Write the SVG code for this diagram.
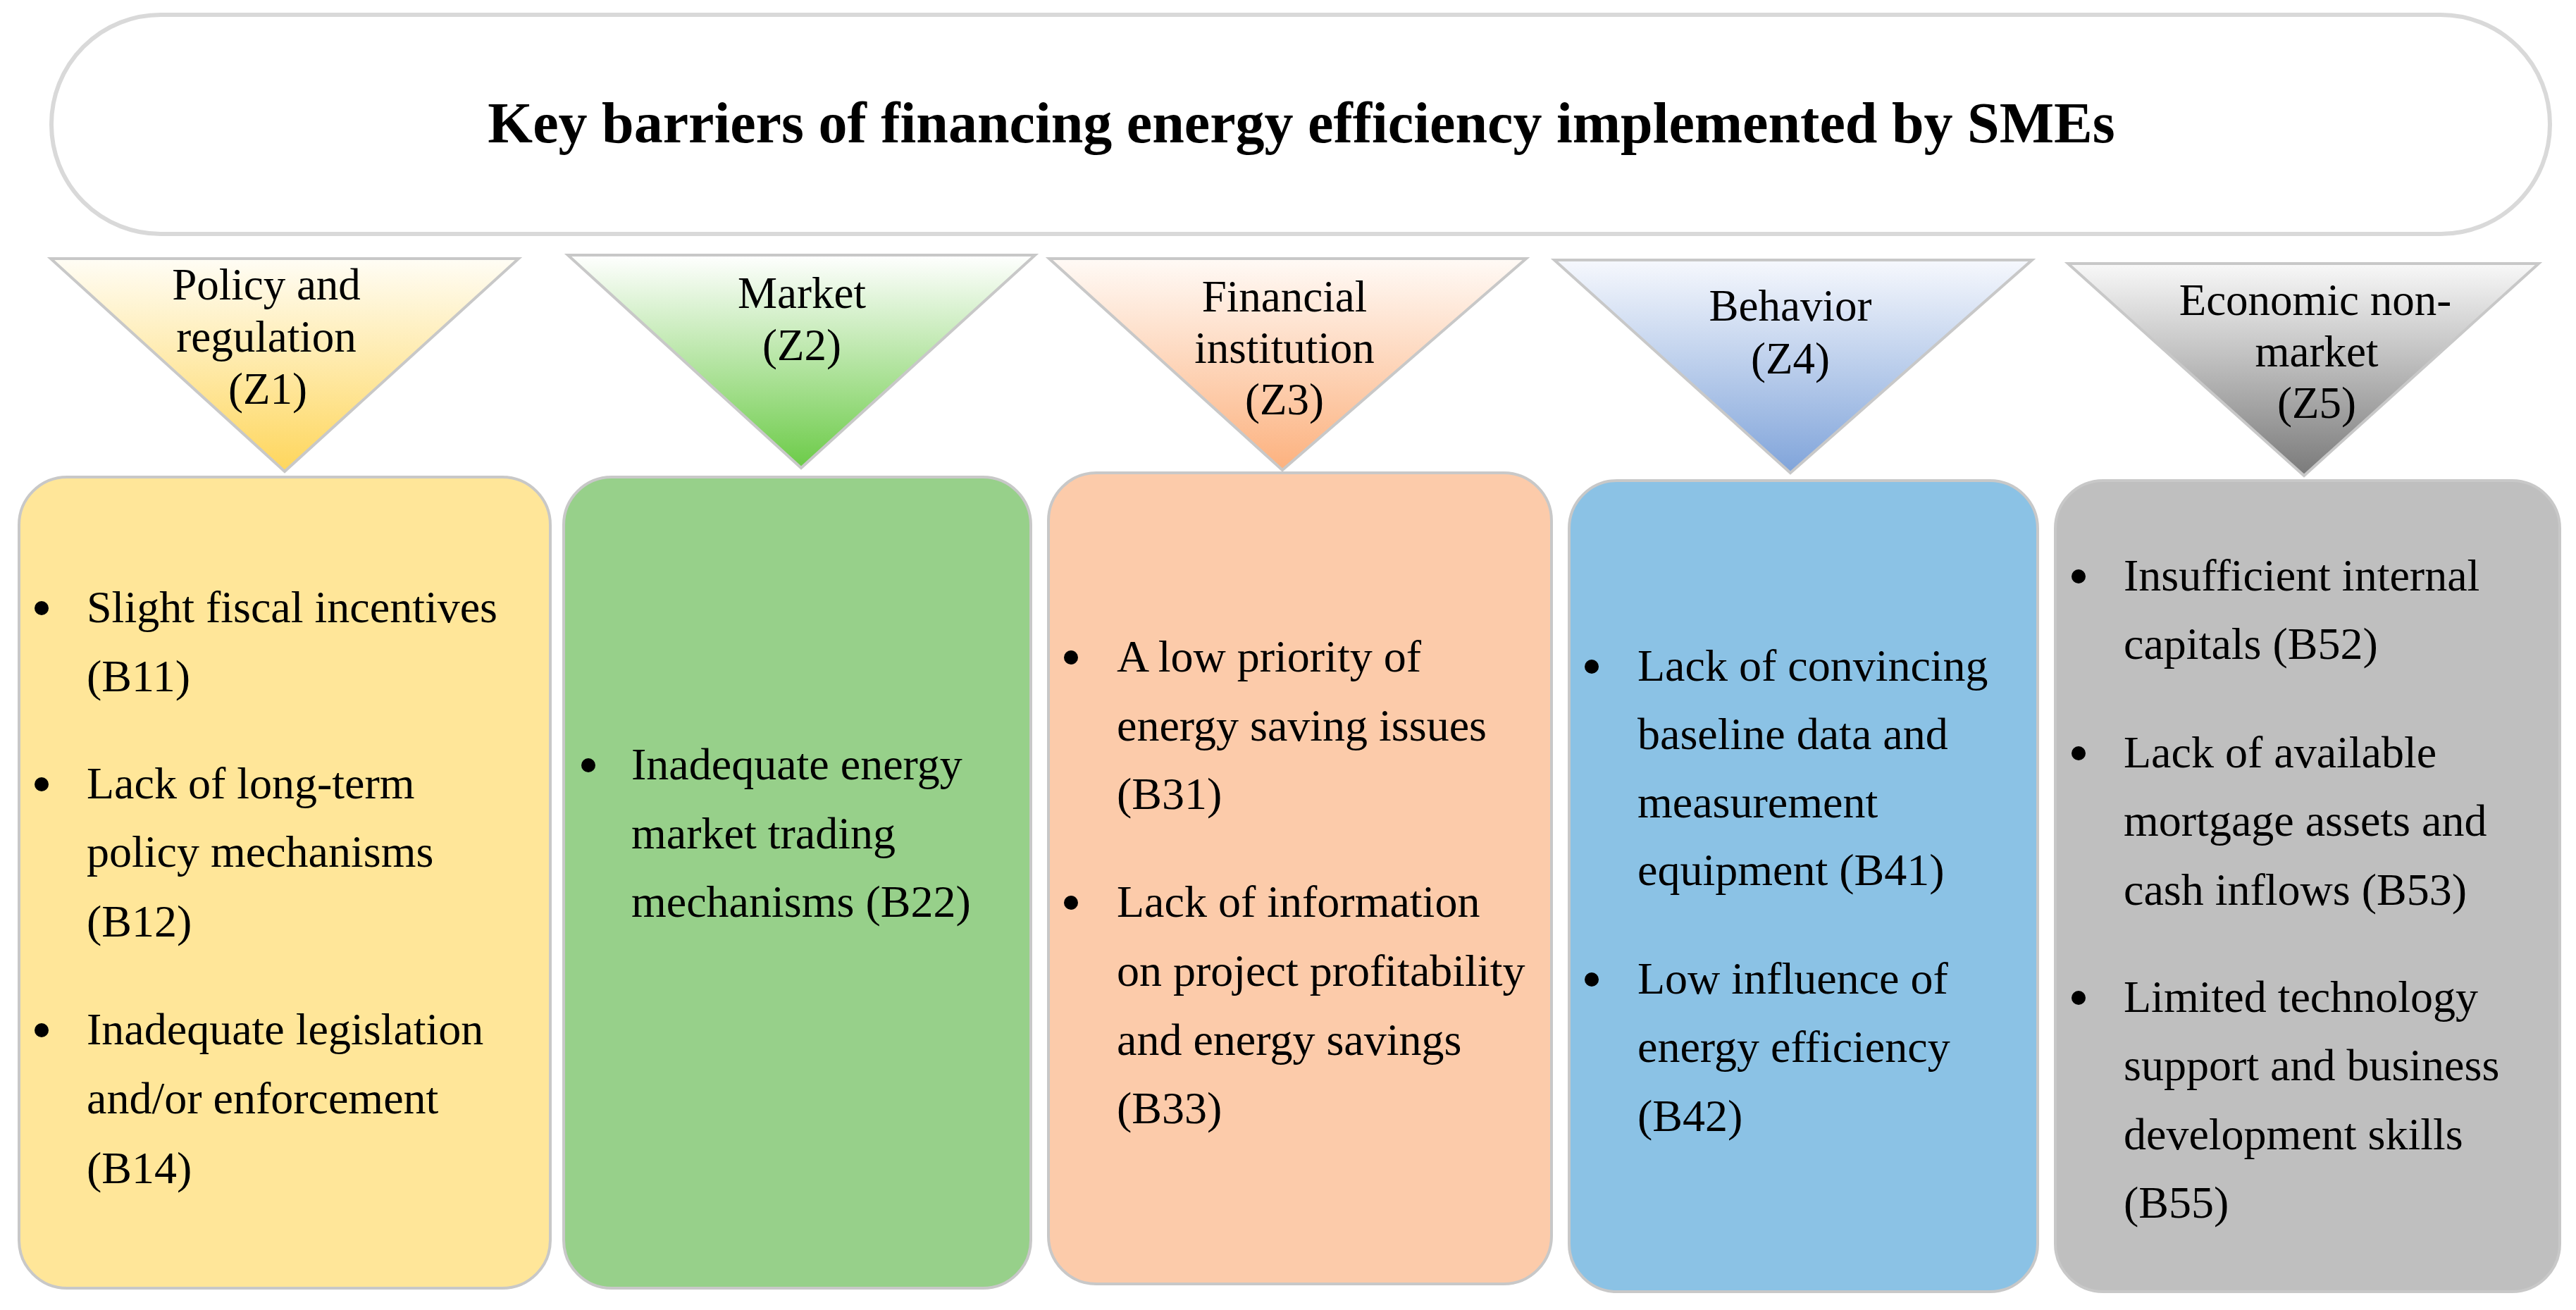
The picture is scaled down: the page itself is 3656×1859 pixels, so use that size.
<svg xmlns="http://www.w3.org/2000/svg" width="3656" height="1859" viewBox="0 0 3656 1859">
<style>
.t{font-family:"Liberation Serif","Times New Roman",serif;font-size:64px;fill:#000}
.h{font-family:"Liberation Serif","Times New Roman",serif;font-size:63px;fill:#000;text-anchor:middle}
.title{font-family:"Liberation Serif","Times New Roman",serif;font-size:82px;font-weight:bold;fill:#000;text-anchor:middle}
.tri{stroke:#c8c8c8;stroke-width:4;stroke-linejoin:miter}
.box{stroke:#c8c8c8;stroke-width:4}
.b{fill:#000}
</style>
<defs>
<linearGradient id="g1" x1="0" y1="0" x2="0" y2="1"><stop offset="0" stop-color="#fffdf5"/><stop offset="1" stop-color="#fed65c"/></linearGradient>
<linearGradient id="g2" x1="0" y1="0" x2="0" y2="1"><stop offset="0" stop-color="#ffffff"/><stop offset="1" stop-color="#6ccb48"/></linearGradient>
<linearGradient id="g3" x1="0" y1="0" x2="0" y2="1"><stop offset="0" stop-color="#fffaf6"/><stop offset="1" stop-color="#fcb17e"/></linearGradient>
<linearGradient id="g4" x1="0" y1="0" x2="0" y2="1"><stop offset="0" stop-color="#f6f8fd"/><stop offset="1" stop-color="#80a4da"/></linearGradient>
<linearGradient id="g5" x1="0" y1="0" x2="0" y2="1"><stop offset="0" stop-color="#f8f8f8"/><stop offset="1" stop-color="#7a7a7a"/></linearGradient>
</defs>
<rect width="3656" height="1859" fill="#fff"/>

<g id="title">
<rect x="73" y="21" width="3546" height="311" rx="155" ry="155" fill="#fff" stroke="#d9d9d9" stroke-width="6"/>
<text class="title" x="1847" y="202">Key barriers of financing energy efficiency implemented by SMEs</text>
</g>

<g id="connectors"></g>

<g id="z1">
<polygon class="tri" points="72,367 736,367 404,669" fill="url(#g1)"/>
<text class="h" x="378" y="425">Policy and</text>
<text class="h" x="378" y="499">regulation</text>
<text class="h" x="380" y="573">(Z1)</text>
</g>
<g id="z2">
<polygon class="tri" points="806,362 1469,362 1137,664" fill="url(#g2)"/>
<text class="h" x="1138" y="437">Market</text>
<text class="h" x="1138" y="511">(Z2)</text>
</g>
<g id="z3">
<polygon class="tri" points="1489,367 2166,367 1820,667" fill="url(#g3)"/>
<text class="h" x="1823" y="442">Financial</text>
<text class="h" x="1823" y="515">institution</text>
<text class="h" x="1823" y="588">(Z3)</text>
</g>
<g id="z4">
<polygon class="tri" points="2206,369 2884,369 2541,671" fill="url(#g4)"/>
<text class="h" x="2541" y="455">Behavior</text>
<text class="h" x="2541" y="530">(Z4)</text>
</g>
<g id="z5">
<polygon class="tri" points="2935,374 3603,374 3270,675" fill="url(#g5)"/>
<text class="h" x="3286" y="447">Economic non-</text>
<text class="h" x="3288" y="520">market</text>
<text class="h" x="3288" y="593">(Z5)</text>
</g>

<g id="b1">
<rect class="box" x="27" y="677" width="754" height="1151" rx="68" ry="68" fill="#ffe699"/>
<circle class="b" cx="59" cy="863" r="10"/>
<text class="t" x="123" y="883">Slight fiscal incentives</text>
<text class="t" x="123" y="981">(B11)</text>
<circle class="b" cx="59" cy="1113" r="10"/>
<text class="t" x="123" y="1133">Lack of long-term</text>
<text class="t" x="123" y="1230">policy mechanisms</text>
<text class="t" x="123" y="1329">(B12)</text>
<circle class="b" cx="59" cy="1462" r="10"/>
<text class="t" x="123" y="1482">Inadequate legislation</text>
<text class="t" x="123" y="1580">and/or enforcement</text>
<text class="t" x="123" y="1679">(B14)</text>
</g>

<g id="b2">
<rect class="box" x="800" y="677" width="663" height="1151" rx="68" ry="68" fill="#97d08a"/>
<circle class="b" cx="835" cy="1086" r="10"/>
<text class="t" x="896" y="1106">Inadequate energy</text>
<text class="t" x="896" y="1204">market trading</text>
<text class="t" x="896" y="1301">mechanisms (B22)</text>
</g>

<g id="b3">
<rect class="box" x="1488" y="671" width="714" height="1151" rx="68" ry="68" fill="#fccbaa"/>
<circle class="b" cx="1520" cy="933" r="10"/>
<text class="t" x="1585" y="953">A low priority of</text>
<text class="t" x="1585" y="1051">energy saving issues</text>
<text class="t" x="1585" y="1148">(B31)</text>
<circle class="b" cx="1520" cy="1281" r="10"/>
<text class="t" x="1585" y="1301">Lack of information</text>
<text class="t" x="1585" y="1399">on project profitability</text>
<text class="t" x="1585" y="1497">and energy savings</text>
<text class="t" x="1585" y="1594">(B33)</text>
</g>

<g id="b4">
<rect class="box" x="2227" y="682" width="665" height="1151" rx="68" ry="68" fill="#8bc2e5"/>
<circle class="b" cx="2259" cy="946" r="10"/>
<text class="t" x="2324" y="966">Lack of convincing</text>
<text class="t" x="2324" y="1063">baseline data and</text>
<text class="t" x="2324" y="1160">measurement</text>
<text class="t" x="2324" y="1256">equipment (B41)</text>
<circle class="b" cx="2259" cy="1390" r="10"/>
<text class="t" x="2324" y="1410">Low influence of</text>
<text class="t" x="2324" y="1507">energy efficiency</text>
<text class="t" x="2324" y="1605">(B42)</text>
</g>

<g id="b5">
<rect class="box" x="2917" y="682" width="716" height="1151" rx="68" ry="68" fill="#bfbfbf"/>
<circle class="b" cx="2950" cy="818" r="10"/>
<text class="t" x="3014" y="838">Insufficient internal</text>
<text class="t" x="3014" y="935">capitals (B52)</text>
<circle class="b" cx="2950" cy="1069" r="10"/>
<text class="t" x="3014" y="1089">Lack of available</text>
<text class="t" x="3014" y="1186">mortgage assets and</text>
<text class="t" x="3014" y="1284">cash inflows (B53)</text>
<circle class="b" cx="2950" cy="1416" r="10"/>
<text class="t" x="3014" y="1436">Limited technology</text>
<text class="t" x="3014" y="1533">support and business</text>
<text class="t" x="3014" y="1631">development skills</text>
<text class="t" x="3014" y="1728">(B55)</text>
</g>
</svg>
